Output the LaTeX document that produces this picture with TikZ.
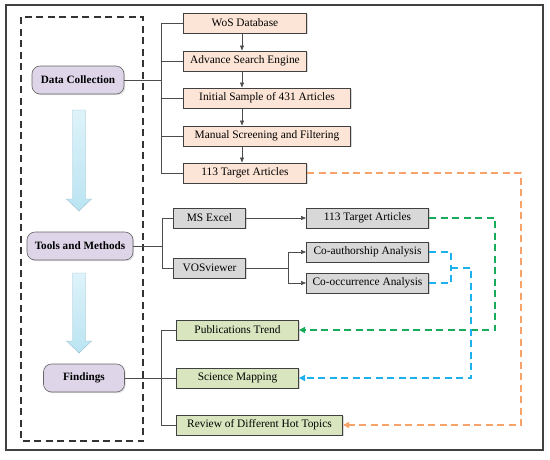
\documentclass[tikz,border=0pt]{standalone}
\usepackage{fontspec}
\setmainfont{Liberation Serif}
\usetikzlibrary{arrows.meta,shadows}
\definecolor{phasefill}{RGB}{222,213,233}
\definecolor{orfill}{RGB}{252,229,214}
\definecolor{grfill}{RGB}{216,216,216}
\definecolor{gnfill}{RGB}{217,229,190}
\definecolor{orline}{RGB}{246,162,104}
\definecolor{gnline}{RGB}{24,172,90}
\definecolor{blline}{RGB}{28,176,236}
\definecolor{flowtop}{RGB}{222,243,250}
\definecolor{flowbot}{RGB}{186,228,242}
\tikzset{
  phase/.style={draw=gray!80!black, fill=phasefill, rounded corners=8pt, line width=0.6pt,
    minimum height=28pt, font=\fontsize{11.2}{13}\selectfont\bfseries,
    drop shadow={opacity=0.25, shadow xshift=1.2pt, shadow yshift=-1.2pt}},
  box/.style={draw=black!75, line width=1pt, anchor=west, minimum height=20pt, inner sep=0pt,
    font=\fontsize{11.4}{13}\selectfont,
    drop shadow={opacity=0.3, shadow xshift=1.2pt, shadow yshift=-1.2pt}},
  obox/.style={box, fill=orfill},
  gbox/.style={box, fill=grfill},
  fbox/.style={box, fill=gnfill},
  link/.style={draw=black!70, line width=0.6pt},
  tip/.style={link, -{Triangle[length=5pt,width=4pt]}},
  flow/.style={line width=1.5pt, dash pattern=on 7pt off 4.5pt, -{Triangle[length=6pt,width=6pt]}}
}
\begin{document}
\begin{tikzpicture}[x=1pt,y=-1pt]
\useasboundingbox (0,0) rectangle (550,459);
% frames
\draw[black!75, line width=1.3pt] (6,5) rectangle (543,450);
\draw[black!80, line width=1.3pt, dash pattern=on 7pt off 4.5pt] (21,17) rectangle (143,441);
% phases
\node[phase, minimum width=92pt] (dc) at (78,80) {Data Collection};
\node[phase, minimum width=106pt] (tm) at (80,246) {Tools and Methods};
\node[phase, minimum width=81pt] (fd) at (84,378) {Findings};
% big arrows down
\foreach \ya/\yb in {110/211, 273/353}
  \draw[draw=blline!40!gray!60, top color=flowtop, bottom color=flowbot, line width=0.4pt]
    (72.5,\ya) -- (85.5,\ya) -- (85.5,\yb-12) -- (91.5,\yb-12) -- (79,\yb)
    -- (66.5,\yb-12) -- (72.5,\yb-12) -- cycle;
% data collection
\node[obox, minimum width=123pt] (wos) at (183,23) {WoS Database};
\node[obox, minimum width=123pt] (adv) at (183,61) {Advance Search Engine};
\node[obox, minimum width=167pt] (ini) at (183,98) {Initial Sample of 431 Articles};
\node[obox, minimum width=167pt] (man) at (183,136) {Manual Screening and Filtering};
\node[obox, minimum width=123pt] (tgt) at (183,173) {113 Target Articles};
\coordinate (dcbus) at (161,80);
\coordinate (ax) at (242,0);
\draw[link] (dc.east) -- (dcbus);
\foreach \n in {wos,adv,ini,man,tgt}
  \draw[link] (\n.west) -| (dcbus);
\draw[tip] (wos.south -| ax) -- (adv.north -| ax);
\draw[tip] (adv.south -| ax) -- (ini.north -| ax);
\draw[tip] (ini.south -| ax) -- (man.north -| ax);
\draw[tip] (man.south -| ax) -- (tgt.north -| ax);
% tools and methods
\node[gbox, minimum width=72pt] (mse) at (173,218) {MS Excel};
\node[gbox, minimum width=72pt] (vos) at (173,268) {VOSviewer};
\node[gbox, minimum width=122pt] (tgb) at (306,218) {113 Target Articles};
\node[gbox, minimum width=122pt] (coa) at (306,252) {Co-authorship Analysis};
\node[gbox, minimum width=122pt] (coo) at (306,283) {Co-occurrence Analysis};
\coordinate (tmbus) at (162,246);
\coordinate (vj) at (288,268);
\draw[link] (tm.east) -- (tmbus);
\draw[link] (mse.west) -| (tmbus);
\draw[link] (vos.west) -| (tmbus);
\draw[tip] (mse) -- (tgb);
\draw[link] (vos.east) -- (vj);
\draw[tip] (vj) |- (coa.west);
\draw[tip] (vj) |- (coo.west);
% findings
\node[fbox, minimum width=122pt] (pub) at (176,330) {Publications Trend};
\node[fbox, minimum width=122pt] (sci) at (176,378) {Science Mapping};
\node[fbox, minimum width=166pt] (rev) at (176,425) {Review of Different Hot Topics};
\coordinate (fdbus) at (161,378);
\draw[link] (fd.east) -- (fdbus);
\foreach \n in {pub,sci,rev}
  \draw[link] (\n.west) -| (fdbus);
% dashed feeds
\coordinate (oc) at (521,0);
\coordinate (gc) at (495,0);
\coordinate (bj) at (451,268);
\coordinate (bc) at (471,0);
\draw[flow, orline] (tgt.east) -- (tgt.east -| oc) |- (rev.east);
\draw[flow, gnline] (tgb.east) -- (tgb.east -| gc) |- (pub.east);
\draw[flow, blline, -] (coa.east) -| (bj);
\draw[flow, blline, -] (coo.east) -| (bj);
\draw[flow, blline] (bj) -- (bj -| bc) |- (sci.east);
\end{tikzpicture}
\end{document}
